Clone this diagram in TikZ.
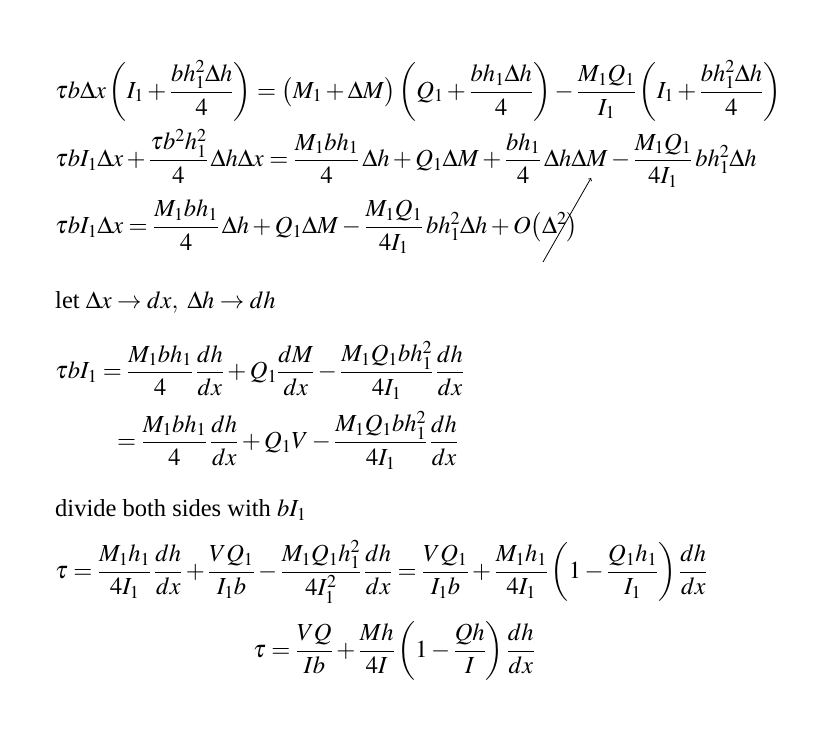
\documentclass[tikz,border=0pt]{standalone}
\usepackage{amsmath}
\usepackage{mathptmx}
\usepackage{fontspec}
\setmainfont{Liberation Serif}
\begin{document}
\begin{tikzpicture}[x=1pt,y=-1pt,
  eq/.style={anchor=west,inner sep=0pt,font=\fontsize{24.5}{29}\selectfont}]
\useasboundingbox[fill=white] (0,0) rectangle (828,735);
\node[eq] (l1) at (55,91) {$\tau b\Delta x\left(I_1+\dfrac{bh_1^2\Delta h}{4}\right)=\bigl(M_1+\Delta M\bigr)\left(Q_1+\dfrac{bh_1\Delta h}{4}\right)-\dfrac{M_1Q_1}{I_1}\left(I_1+\dfrac{bh_1^2\Delta h}{4}\right)$};
\node[eq] (l2) at (55,158) {$\tau bI_1\Delta x+\dfrac{\tau b^2h_1^2}{4}\,\Delta h\Delta x=\dfrac{M_1bh_1}{4}\,\Delta h+Q_1\Delta M+\dfrac{bh_1}{4}\,\Delta h\Delta M-\dfrac{M_1Q_1}{4I_1}\,bh_1^2\Delta h$};
\node[eq] (l3) at (55,227) {$\tau bI_1\Delta x=\dfrac{M_1bh_1}{4}\,\Delta h+Q_1\Delta M-\dfrac{M_1Q_1}{4I_1}\,bh_1^2\Delta h+O\bigl(\Delta^2\bigr)$};
\node[eq] (l4) at (55,302) {let $\Delta x\rightarrow dx,\ \Delta h\rightarrow dh$};
\node[eq] (l5) at (55,370) {$\tau bI_1=\dfrac{M_1bh_1}{4}\,\dfrac{dh}{dx}+Q_1\dfrac{dM}{dx}-\dfrac{M_1Q_1bh_1^2}{4I_1}\,\dfrac{dh}{dx}$};
\node[eq] (l6) at (117,440) {$=\dfrac{M_1bh_1}{4}\,\dfrac{dh}{dx}+Q_1V-\dfrac{M_1Q_1bh_1^2}{4I_1}\,\dfrac{dh}{dx}$};
\node[eq] (l7) at (55,510) {divide both sides with $bI_1$};
\node[eq] (l8) at (55,572) {$\tau=\dfrac{M_1h_1}{4I_1}\,\dfrac{dh}{dx}+\dfrac{VQ_1}{I_1b}-\dfrac{M_1Q_1h_1^2}{4I_1^2}\,\dfrac{dh}{dx}=\dfrac{VQ_1}{I_1b}+\dfrac{M_1h_1}{4I_1}\left(1-\dfrac{Q_1h_1}{I_1}\right)\dfrac{dh}{dx}$};
\node[eq] (l9) at (253,651) {$\tau=\dfrac{VQ}{Ib}+\dfrac{Mh}{4I}\left(1-\dfrac{Qh}{I}\right)\dfrac{dh}{dx}$};
\coordinate (xa) at (543,262);
\coordinate (xb) at (591,178);
\draw[->,line width=0.8pt] (xa) -- (xb);
\end{tikzpicture}
\end{document}
